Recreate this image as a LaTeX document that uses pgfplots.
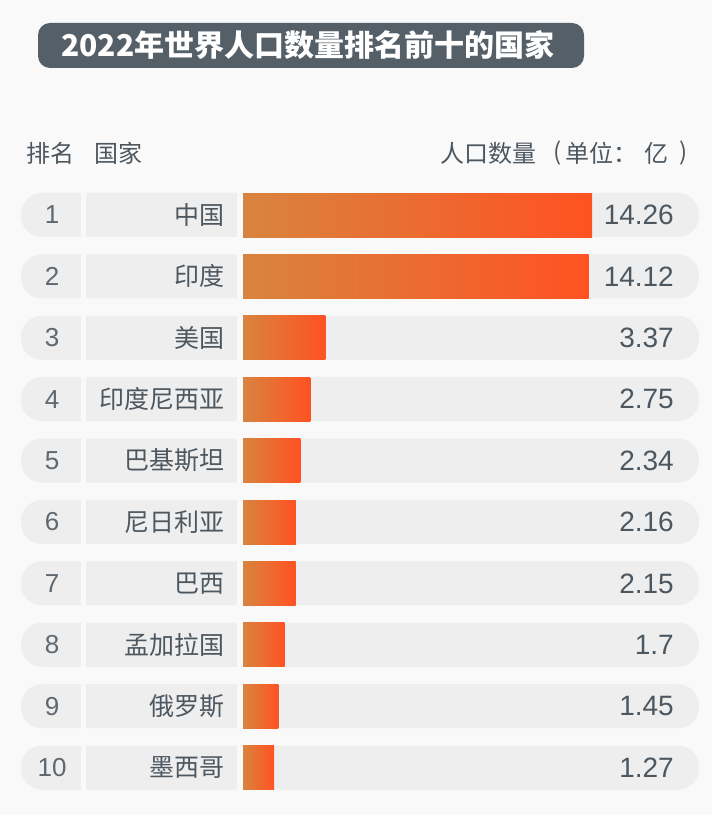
\documentclass[border=0pt]{standalone}
\usepackage{pgfplots}
\pgfplotsset{compat=1.18}
\usepackage{pgfplotstable}
\usepackage{fontspec}
\setmainfont{Liberation Sans}
\newfontfamily\cjk{Noto Sans CJK SC}
\definecolor{bg}{HTML}{F9F9F9}
\definecolor{pill}{HTML}{EEEEEE}
\definecolor{titlebg}{HTML}{555F67}
\definecolor{txt}{HTML}{4D5760}
\definecolor{barL}{HTML}{D8843F}
\definecolor{barR}{HTML}{FF5222}
\pgfplotstableread{
rank name value
1 中国 14.26
2 印度 14.12
3 美国 3.37
4 印度尼西亚 2.75
5 巴基斯坦 2.34
6 尼日利亚 2.16
7 巴西 2.15
8 孟加拉国 1.7
9 俄罗斯 1.45
10 墨西哥 1.27
}\datatable
\tikzset{hdr/.style={inner sep=0pt, text=txt, font=\cjk\fontsize{24pt}{28pt}\selectfont}}
\begin{document}
\begin{tikzpicture}
\fill[bg] (0pt,0pt) rectangle (712pt,815pt);
\begin{scope}[shift={(0pt,815pt)}, x=1pt, y=-1pt]
  \fill[titlebg, rounded corners=12pt] (38,23) rectangle (584,68);
  \foreach \r in {0,...,9} {
    \pgfmathsetmacro\yc{215+61.4*\r}
    \fill[pill, rounded corners=21pt] (21,\yc-22) rectangle (699,\yc+22);
    \fill[bg] (81,\yc-23) rectangle (86,\yc+23);
    \fill[bg] (237,\yc-23) rectangle (243,\yc+23);
  }
  \node[anchor=west, inner sep=0pt, text=white, font=\cjk\bfseries\fontsize{30pt}{36pt}\selectfont] at (61,45.5) {2022年世界人口数量排名前十的国家};
  \node[hdr, anchor=west] at (26,153) {排名};
  \node[hdr, anchor=west] at (94,153) {国家};
  \node[hdr, anchor=west] at (440,153) {人口数量};
  \node[hdr, anchor=center] at (557.5,153) {(};
  \node[hdr, anchor=west] at (565,153) {单位：};
  \node[hdr, anchor=center] at (656.5,153) {亿};
  \node[hdr, anchor=center] at (684,153) {)};
\end{scope}
\begin{axis}[
  at={(0pt,0pt)}, anchor=south west,
  scale only axis, width=712pt, height=815pt,
  xmin=-9.929, xmax=19.163,
  ymin=-2.5016, ymax=10.772, y dir=reverse,
  hide axis, clip=false,
  mybar/.style={xbar, bar width=44pt, bar shift=0pt, draw=none, left color=barL, right color=barR},
]
\addplot[mybar] coordinates {(14.26,1)};
\addplot[mybar] coordinates {(14.12,2)};
\addplot[mybar] coordinates {(3.37,3)};
\addplot[mybar] coordinates {(2.75,4)};
\addplot[mybar] coordinates {(2.34,5)};
\addplot[mybar] coordinates {(2.16,6)};
\addplot[mybar] coordinates {(2.15,7)};
\addplot[mybar] coordinates {(1.7,8)};
\addplot[mybar] coordinates {(1.45,9)};
\addplot[mybar] coordinates {(1.27,10)};
\addplot[sharp plot, draw=none, mark=none, nodes near coords, point meta=explicit symbolic,
  every node near coord/.append style={anchor=east, inner sep=0pt, text=txt,
    font=\fontsize{28pt}{32pt}\selectfont}]
  table[x expr=17.611, y=rank, meta=value] \datatable;
\addplot[sharp plot, draw=none, mark=none, nodes near coords, point meta=explicit symbolic,
  every node near coord/.append style={anchor=east, inner sep=0pt, text=txt,
    font=\cjk\fontsize{25pt}{29pt}\selectfont}]
  table[x expr=-0.735, y=rank, meta=name] \datatable;
\addplot[sharp plot, draw=none, mark=none, nodes near coords, point meta=explicit symbolic,
  every node near coord/.append style={anchor=center, inner sep=0pt, text=txt!90,
    font=\fontsize{26pt}{30pt}\selectfont}]
  table[x expr=-7.804, y=rank, meta=rank] \datatable;
\end{axis}
\end{tikzpicture}
\end{document}
